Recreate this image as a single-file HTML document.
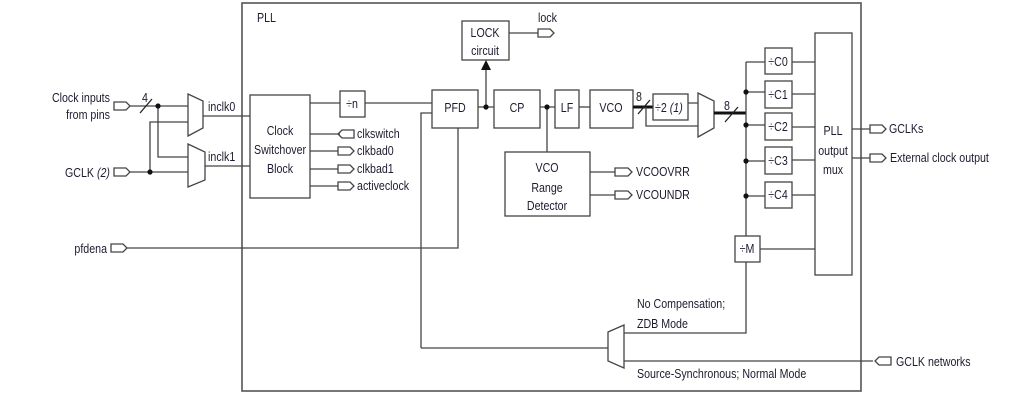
<!DOCTYPE html>
<html><head><meta charset="utf-8"><style>
html,body{margin:0;padding:0;background:#fff;}
svg{display:block;}
text{font-family:"Liberation Sans",sans-serif;font-size:13px;fill:#1c1c30;}
</style></head><body>
<svg width="1030" height="409" viewBox="0 0 1030 409" xmlns="http://www.w3.org/2000/svg">
<g fill="none" stroke="#444" stroke-width="1.3">
<rect x="242" y="3" width="619" height="388" stroke="#555" stroke-width="1.6"/>
<polygon points="114,102 126,102 130,106 126,110 114,110"/>
<polygon points="114,168 126,168 130,172 126,176 114,176"/>
<polygon points="111,244 123,244 127,248 123,252 111,252"/>
<path d="M130,106 H188 M158,106 V157 H188 M130,172 H188 M150,172 V122 H188"/>
<path d="M140,113 L152,99" stroke="#222"/>
<polygon points="188,94 203,101 203,128 188,136"/>
<polygon points="188,144 205,152 205,180 188,187"/>
<path d="M203,116 H250 M205,166 H250"/>
<rect x="250" y="95" width="60" height="103"/>
<rect x="340" y="91" width="25" height="26"/>
<path d="M310,103 H340 M365,103 H432"/>
<path d="M310,134 H340 M310,151 H338 M310,169 H338 M310,186 H338"/>
<polygon points="354,130 342,130 338,134 342,138 354,138"/>
<polygon points="338,147 350,147 354,151 350,155 338,155"/>
<polygon points="338,165 350,165 354,169 350,173 338,173"/>
<polygon points="338,182 350,182 354,186 350,190 338,190"/>
<path d="M127,248 H458 V128"/>
<rect x="432" y="90" width="46" height="38"/>
<path d="M421,348 V113 H432"/>
<rect x="462" y="21" width="47" height="39"/>
<path d="M509,33 H538"/>
<polygon points="538,29 550,29 554,33 550,37 538,37"/>
<path d="M478,107 H494 M486,107 V68"/>
<rect x="494" y="90" width="46" height="38"/>
<path d="M540,107 H555 M547,107 V152"/>
<rect x="555" y="90" width="24" height="38"/>
<path d="M579,107 H590"/>
<rect x="590" y="90" width="43" height="38"/>
<rect x="505" y="152" width="85" height="64"/>
<path d="M590,172 H615 M590,195 H615"/>
<polygon points="615,168 628,168 632,172 628,176 615,176"/>
<polygon points="615,191 628,191 632,195 628,199 615,199"/>
<path d="M633,107 H653" stroke="#111" stroke-width="3"/>
<path d="M638,114 L650,100" stroke="#222"/>
<rect x="653" y="94" width="35" height="26"/>
<path d="M688,103 H698 M646,107 V126 H698"/>
<polygon points="698,93 714,101 714,128 698,137"/>
<path d="M714,113 H746" stroke="#111" stroke-width="3"/>
<path d="M725,122 L738,107" stroke="#222"/>
<path d="M746,62 V236 M746,262 V333 H624"/>
<path d="M746,62 H765 M746,92 H765 M746,125 H765 M746,161 H765 M746,196 H765"/>
<rect x="765" y="48" width="27" height="26"/>
<rect x="765" y="81" width="27" height="27"/>
<rect x="765" y="113" width="27" height="27"/>
<rect x="765" y="147" width="27" height="27"/>
<rect x="765" y="182" width="27" height="26"/>
<path d="M792,62 H815 M792,94 H815 M792,127 H815 M792,160 H815 M792,195 H815"/>
<rect x="735" y="236" width="25" height="26"/>
<path d="M760,249 H815"/>
<rect x="815" y="33" width="37" height="242"/>
<path d="M852,129 H870 M852,158 H870"/>
<polygon points="870,125 882,125 886,129 882,133 870,133"/>
<polygon points="870,154 882,154 886,158 882,162 870,162"/>
<polygon points="608,332 624,325 624,368 608,361"/>
<path d="M608,348 H421 M624,361 H873"/>
<polygon points="891,357 879,357 875,361 879,365 891,365"/>
</g>
<polygon points="486,60 481,70 491,70" fill="#111"/>
<g fill="#111">
<circle cx="158" cy="106" r="2.6"/><circle cx="150" cy="172" r="2.6"/>
<circle cx="486" cy="107" r="2.6"/><circle cx="547" cy="107" r="2.6"/>
<circle cx="746" cy="92" r="2.6"/><circle cx="746" cy="125" r="2.6"/>
<circle cx="746" cy="161" r="2.6"/><circle cx="746" cy="196" r="2.6"/>
</g>
<g transform="scale(0.82,1)">
<text x="313.4" y="22">PLL</text>
<text x="134.1" y="102" text-anchor="end">Clock inputs</text>
<text x="134.1" y="119" text-anchor="end">from pins</text>
<text x="173.2" y="102">4</text>
<text x="134.1" y="177" text-anchor="end">GCLK <tspan font-style="italic">(2)</tspan></text>
<text x="130.5" y="253" text-anchor="end">pfdena</text>
<text x="253.7" y="111">inclk0</text>
<text x="253.7" y="161">inclk1</text>
<text x="341.5" y="135" text-anchor="middle">Clock</text>
<text x="341.5" y="154" text-anchor="middle">Switchover</text>
<text x="341.5" y="173" text-anchor="middle">Block</text>
<text x="429.3" y="108" text-anchor="middle">÷n</text>
<text x="435.4" y="138">clkswitch</text>
<text x="435.4" y="155">clkbad0</text>
<text x="435.4" y="173">clkbad1</text>
<text x="435.4" y="190">activeclock</text>
<text x="554.9" y="112" text-anchor="middle">PFD</text>
<text x="591.5" y="37" text-anchor="middle">LOCK</text>
<text x="591.5" y="55" text-anchor="middle">circuit</text>
<text x="656.1" y="22">lock</text>
<text x="630.5" y="112" text-anchor="middle">CP</text>
<text x="691.5" y="112" text-anchor="middle">LF</text>
<text x="745.1" y="112" text-anchor="middle">VCO</text>
<text x="667.1" y="172" text-anchor="middle">VCO</text>
<text x="667.1" y="192" text-anchor="middle">Range</text>
<text x="667.1" y="210" text-anchor="middle">Detector</text>
<text x="775.6" y="176">VCOOVRR</text>
<text x="775.6" y="199">VCOUNDR</text>
<text x="775.6" y="101">8</text>
<text x="798.8" y="112">÷2 <tspan font-style="italic">(1)</tspan></text>
<text x="882.9" y="110">8</text>
<text x="948.8" y="66" text-anchor="middle">÷C0</text>
<text x="948.8" y="99" text-anchor="middle">÷C1</text>
<text x="948.8" y="131" text-anchor="middle">÷C2</text>
<text x="948.8" y="165" text-anchor="middle">÷C3</text>
<text x="948.8" y="199" text-anchor="middle">÷C4</text>
<text x="911" y="253" text-anchor="middle">÷M</text>
<text x="1015.9" y="135" text-anchor="middle">PLL</text>
<text x="1015.9" y="155" text-anchor="middle">output</text>
<text x="1015.9" y="174" text-anchor="middle">mux</text>
<text x="1084.1" y="133">GCLKs</text>
<text x="1085.4" y="162">External clock output</text>
<text x="776.8" y="308">No Compensation;</text>
<text x="776.8" y="328">ZDB Mode</text>
<text x="776.8" y="378">Source-Synchronous; Normal Mode</text>
<text x="1092.7" y="366">GCLK networks</text>
</g>
</svg>
</body></html>
